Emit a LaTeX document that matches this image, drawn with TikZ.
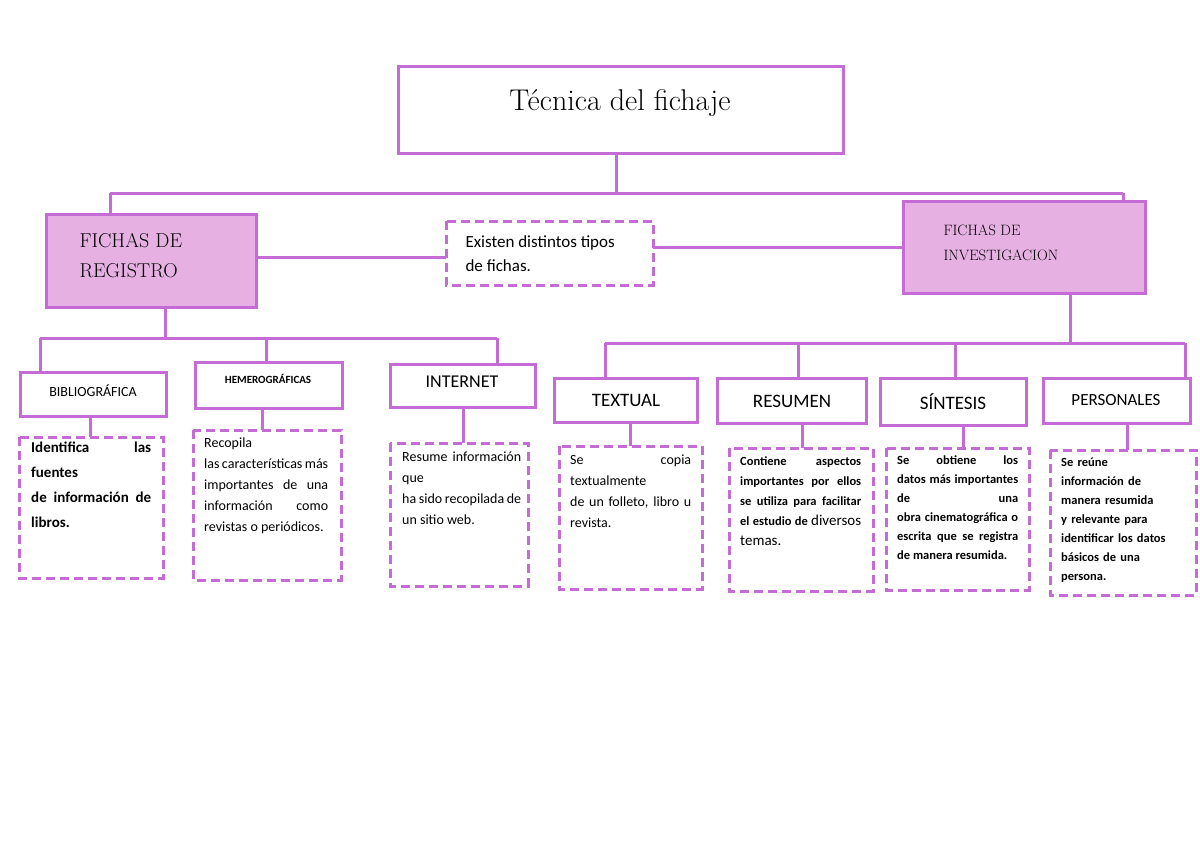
\documentclass[tikz,border=0pt]{standalone}
\usepackage{fontspec}
\newfontfamily\carl{Carlito}
\definecolor{vio}{HTML}{C56BD6}
\definecolor{pk}{HTML}{E6B1E2}
\begin{document}
\begin{tikzpicture}[x=1pt,y=-1pt,
 box/.style={draw=vio,line width=3pt,rectangle},
 dbox/.style={draw=vio,line width=3pt,dash pattern=on 9pt off 5pt},
 ln/.style={draw=vio,line width=3pt},
 txt/.style={anchor=north west,inner sep=0pt,align=justify,execute at begin node={\hyphenpenalty=10000\tolerance=10000\emergencystretch=20pt}},
 hd/.style={font=\carl\fontsize{19}{20}\selectfont}]
\useasboundingbox (0,0) rectangle (1200,849);
\fill[white] (0,0) rectangle (1200,849);
% title
\draw[box] (398,66) rectangle (843,153);
\node[font=\fontsize{30}{34}\selectfont] (t) at (620,103) {Técnica del fichaje};
\coordinate (t1) at (616,153); \coordinate (t2) at (616,193);
\draw[ln] (t1)--(t2);
\coordinate (hl) at (110,193); \coordinate (hr) at (1123,193);
\draw[ln] (hl)--(hr);
% left main
\draw[box,fill=pk] (46,214) rectangle (256,307);
\node[anchor=west,align=left,font=\fontsize{20}{30}\selectfont] (reg) at (76,256) {FICHAS DE\\REGISTRO};
\draw[ln] (hl)--(110,214);
% right main
\draw[box,fill=pk] (903,201) rectangle (1145,293);
\node[anchor=west,align=left,font=\fontsize{15}{25}\selectfont] (inv) at (940,243) {FICHAS DE\\INVESTIGACION};
\draw[ln] (hr)--(1123,201);
% middle
\draw[dbox] (446,221) rectangle (653,285);
\node[anchor=west,align=left,font=\carl\fontsize{17}{24}\selectfont] (ex) at (462,254) {Existen distintos tipos\\de fichas.};
\draw[ln] (256,257)--(446,257);
\draw[ln] (653,247)--(903,247);
% left branch
\draw[ln] (165,307)--(165,338);
\draw[ln] (40,338)--(497,338);
\draw[ln] (40,338)--(40,372); \draw[ln] (266,338)--(266,362); \draw[ln] (497,338)--(497,364);
\draw[box] (20,372) rectangle (166,416);
\node[font=\carl\fontsize{14}{16}\selectfont] (bib) at (93,391) {BIBLIOGRÁFICA};
\draw[box] (195,362) rectangle (342,408);
\node[font=\carl\bfseries\fontsize{11}{13}\selectfont] (hem) at (268,379) {HEMEROGRÁFICAS};
\draw[box] (390,364) rectangle (535,407);
\node[hd,font=\carl\fontsize{18}{20}\selectfont] (int) at (462,382) {INTERNET};
% right branch
\draw[ln] (1070,293)--(1070,343);
\draw[ln] (605,343)--(1185,343);
\foreach \x in {605,798,955,1185} \draw[ln] (\x,343)--(\x,378);
\draw[box] (554,378) rectangle (697,422); \node[hd] (tex) at (626,400) {TEXTUAL};
\draw[box] (717,378) rectangle (866,423); \node[hd] (res) at (792,401) {RESUMEN};
\draw[box] (880,378) rectangle (1026,425); \node[hd] (sin) at (953,402) {SÍNTESIS};
\draw[box] (1043,378) rectangle (1190,423); \node[font=\carl\fontsize{17}{18}\selectfont] (per) at (1116,400) {PERSONALES};
% descriptions
\draw[ln] (90,416)--(90,437); \draw[dbox] (19,437) rectangle (163,578);
\node[txt,text width=120pt,font=\carl\bfseries\fontsize{15}{25}\selectfont] (d1) at (31,442) {Identifica las fuentes de información de libros.};
\draw[ln] (262,408)--(262,430); \draw[dbox] (193,430) rectangle (341,580);
\node[txt,text width=124pt,font=\carl\fontsize{14}{21}\selectfont] (d2) at (204,438) {Recopila las características más importantes de una información como revistas o periódicos.};
\draw[ln] (463,407)--(463,443); \draw[dbox] (390,443) rectangle (528,586);
\node[txt,text width=119pt,font=\carl\fontsize{14}{21}\selectfont] (d3) at (402,452) {Resume información que ha sido recopilada de un sitio web.};
\draw[ln] (630,422)--(630,446); \draw[dbox] (559,446) rectangle (702,589);
\node[txt,text width=121pt,font=\carl\fontsize{14}{21}\selectfont] (d4) at (570,455) {Se copia textualmente de un folleto, libro u revista.};
\draw[ln] (802,423)--(802,448); \draw[dbox] (729,448) rectangle (873,591);
\node[txt,text width=121pt,font=\carl\bfseries\fontsize{12.5}{20}\selectfont] (d5) at (740,457) {Contiene aspectos importantes por ellos se utiliza para facilitar el estudio de {\mdseries\fontsize{15}{20}\selectfont diversos temas.}};
\draw[ln] (963,425)--(963,448); \draw[dbox] (886,448) rectangle (1029,590);
\node[txt,text width=121pt,font=\carl\bfseries\fontsize{12.5}{19}\selectfont] (d6) at (897,456) {Se obtiene los datos más importantes de una obra cinematográfica o escrita que se registra de manera resumida.};
\draw[ln] (1127,423)--(1127,450); \draw[dbox] (1050,450) rectangle (1196,595);
\node[txt,text width=118pt,align=left,font=\carl\bfseries\fontsize{12.5}{19}\selectfont] (d7) at (1061,458) {Se reúne\\información de\\manera resumida y relevante para identificar los datos básicos de una persona.};
\end{tikzpicture}
\end{document}
